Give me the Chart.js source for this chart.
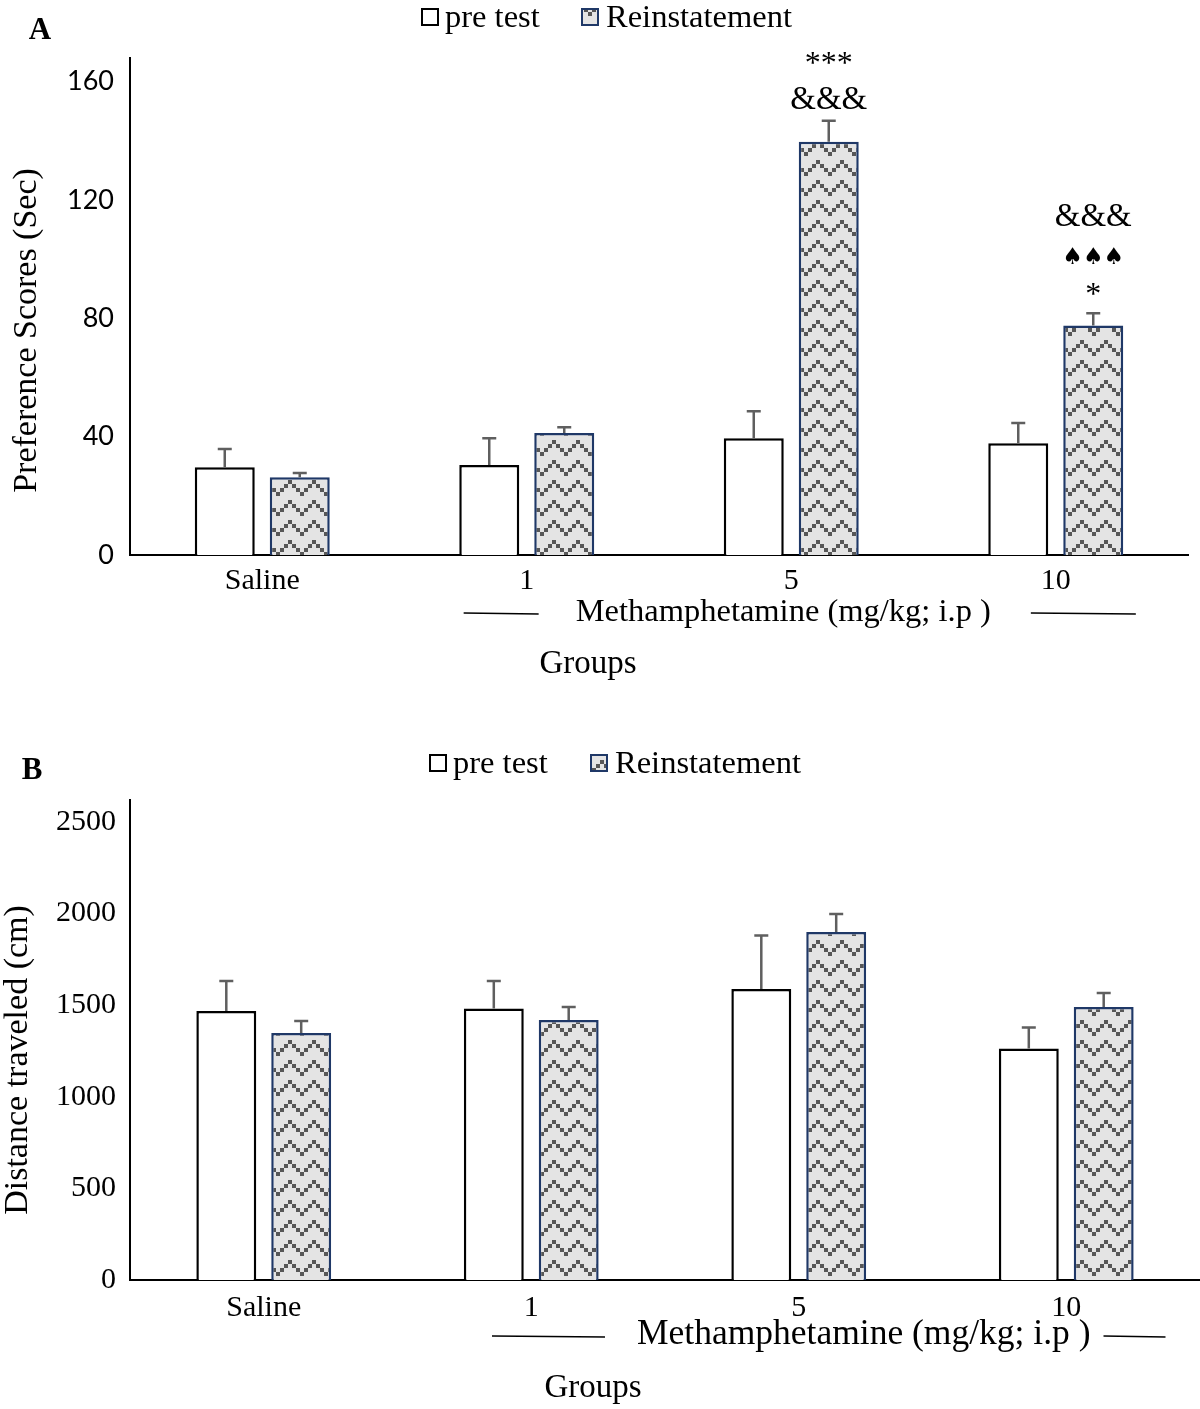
<!DOCTYPE html>
<html>
<head>
<meta charset="utf-8">
<script src="https://cdn.jsdelivr.net/npm/chart.js@4.4.1/dist/chart.umd.min.js"></script>
<style>
  html, body { margin: 0; padding: 0; background: #fff; }
  #wrap { position: relative; width: 1200px; height: 1409px; }
  .panel { position: absolute; left: 0; width: 1200px; }
</style>
</head>
<body>
<div id="wrap">
  <div class="panel" style="top:0;height:700px"><canvas id="chartA" width="1200" height="700"></canvas></div>
  <div class="panel" style="top:700px;height:709px"><canvas id="chartB" width="1200" height="709"></canvas></div>
</div>
<script>
const groups = ["Saline", "1", "5", "10"];
const seriesNames = ["pre test", "Reinstatement"];

// panel A: preference scores (sec)
const preA = [29.7, 30.4, 39.5, 37.8];
const preErrA = [6.1, 9.1, 9.1, 6.8];
const reinA = [26.3, 41.2, 139.7, 77.6];
const reinErrA = [1.4, 2.0, 7.1, 4.1];
const yTicksA = [0, 40, 80, 120, 160];
const marksA = [[], [], ["&&&", "***"], ["*", "♠♠♠", "&&&"]];

// panel B: distance traveled (cm)
const preB = [1468, 1482, 1588, 1263];
const preErrB = [164, 150, 292, 115];
const reinB = [1348, 1419, 1900, 1490];
const reinErrB = [66, 71, 98, 77];
const yTicksB = [0, 500, 1000, 1500, 2000, 2500];
const marksB = [[], [], [], []];

const methLabel = "Methamphetamine (mg/kg; i.p )";
const SERIF = '"Liberation Serif", "Times New Roman", serif';
const SANS = 'Lato, "Open Sans", sans-serif';

// grey zigzag fill like the Excel pattern
function makeZigzag(ctx) {
  const c = document.createElement("canvas");
  c.width = 24;
  c.height = 20;
  const g = c.getContext("2d");
  g.fillStyle = "#e4e4e4";
  g.fillRect(0, 0, 24, 20);
  g.fillStyle = "#575757";
  [0, 4, 8, 12, 8, 4].forEach((y, i) => g.fillRect(i * 4, y, 4, 4));
  return ctx.createPattern(c, "repeat");
}

// font and small vertical nudge per mark glyph
function markStyle(s) {
  if (s.includes("♠")) return { font: `23px "DejaVu Sans", sans-serif`, dy: 5 };
  if (s.includes("*")) return { font: `32px ${SERIF}`, dy: 4 };
  return { font: `33px ${SERIF}`, dy: 2 };
}

function overlay(p) {
  return {
    id: "overlay",
    afterDatasetsDraw(chart) {
      const ctx = chart.ctx;
      const x = chart.scales.x;
      const y = chart.scales.y;
      const area = chart.chartArea;
      ctx.save();

      // error bars (upper only)
      [p.preErr, p.reinErr].forEach((errs, di) => {
        const vals = chart.data.datasets[di].data;
        chart.getDatasetMeta(di).data.forEach((bar, j) => {
          const y0 = y.getPixelForValue(vals[j]);
          const y1 = y.getPixelForValue(vals[j] + errs[j]);
          ctx.strokeStyle = "#5f5f5f";
          ctx.lineWidth = 2.5;
          ctx.beginPath();
          ctx.moveTo(bar.x, y0);
          ctx.lineTo(bar.x, y1);
          ctx.moveTo(bar.x - 7, y1);
          ctx.lineTo(bar.x + 7, y1);
          ctx.stroke();
        });
      });

      // significance marks above reinstatement bars
      ctx.fillStyle = "#000";
      ctx.textAlign = "center";
      ctx.textBaseline = "middle";
      const reinVals = chart.data.datasets[1].data;
      chart.getDatasetMeta(1).data.forEach((bar, j) => {
        const top = y.getPixelForValue(reinVals[j] + p.reinErr[j]);
        p.marks[j].forEach((s, k) => {
          const st = markStyle(s);
          ctx.font = st.font;
          ctx.fillText(s, bar.x, top - 22 - k * 38 + st.dy);
        });
      });

      // y axis title
      ctx.save();
      ctx.translate(p.yTitleX, (area.top + area.bottom) / 2 + p.yTitleShift);
      ctx.rotate(-Math.PI / 2);
      ctx.font = `34px ${SERIF}`;
      ctx.fillText(p.yTitle, 0, 0);
      ctx.restore();

      // panel letter
      ctx.font = `bold 31px ${SERIF}`;
      ctx.fillText(p.letter, p.letterX, p.letterY);

      // legend
      const L = p.legend;
      ctx.textAlign = "left";
      ctx.font = `32.5px ${SERIF}`;
      ctx.fillStyle = "#fff";
      ctx.fillRect(L.x1, L.y - 8, 16, 16);
      ctx.strokeStyle = "#000";
      ctx.lineWidth = 2;
      ctx.strokeRect(L.x1, L.y - 8, 16, 16);
      ctx.fillStyle = "#000";
      ctx.fillText(seriesNames[0], L.x1 + 23, L.y + 1);
      ctx.fillStyle = p.pattern;
      ctx.fillRect(L.x2, L.y - 8, 16, 16);
      ctx.strokeStyle = "#1f3867";
      ctx.strokeRect(L.x2, L.y - 8, 16, 16);
      ctx.fillStyle = "#000";
      ctx.fillText(seriesNames[1], L.x2 + 24, L.y + 1);

      // methamphetamine row with side lines
      const M = p.meth;
      const xm = (x.getPixelForValue(1) + x.getPixelForValue(3)) / 2 + M.shift;
      ctx.textAlign = "center";
      ctx.font = `${M.size}px ${SERIF}`;
      const w = ctx.measureText(methLabel).width;
      ctx.fillText(methLabel, xm, M.y);
      ctx.strokeStyle = "#000";
      ctx.lineWidth = 1.5;
      ctx.beginPath();
      ctx.moveTo(xm - w / 2 - M.gapL - M.lenL, M.y + 1);
      ctx.lineTo(xm - w / 2 - M.gapL, M.y + 2);
      ctx.moveTo(xm + w / 2 + M.gapR, M.y + 1);
      ctx.lineTo(xm + w / 2 + M.gapR + M.lenR, M.y + 2);
      ctx.stroke();

      // groups caption
      ctx.font = `33px ${SERIF}`;
      ctx.fillText("Groups", p.groupsX, p.groupsY);
      ctx.restore();
    },
  };
}

function makeChart(id, p) {
  const ctx = document.getElementById(id).getContext("2d");
  p.pattern = makeZigzag(ctx);
  return new Chart(ctx, {
    type: "bar",
    data: {
      labels: groups,
      datasets: [
        {
          label: seriesNames[0],
          data: p.pre,
          backgroundColor: "#ffffff",
          borderColor: "#000000",
          borderWidth: 2.5,
          borderSkipped: "bottom",
          barPercentage: p.barPct,
          categoryPercentage: p.catPct,
        },
        {
          label: seriesNames[1],
          data: p.rein,
          backgroundColor: p.pattern,
          borderColor: "#1f3867",
          borderWidth: 2.5,
          borderSkipped: "bottom",
          barPercentage: p.barPct,
          categoryPercentage: p.catPct,
        },
      ],
    },
    options: {
      responsive: false,
      animation: false,
      devicePixelRatio: 1,
      layout: { padding: p.padding },
      plugins: { legend: { display: false }, tooltip: { enabled: false } },
      scales: {
        x: {
          grid: { display: false, drawTicks: false },
          border: { display: true, color: "#000", width: 2 },
          ticks: { color: "#000", font: { family: SERIF, size: 30 }, padding: p.xPad },
          afterFit: (s) => { s.height = p.xHeight; },
        },
        y: {
          min: 0,
          max: p.yMax,
          grid: { display: false, drawTicks: false },
          border: { display: true, color: "#000", width: 2 },
          afterBuildTicks: (s) => { s.ticks = p.yTicks.map((v) => ({ value: v })); },
          ticks: { color: "#000", font: p.tickFont, padding: p.yPad, callback: (v) => String(v) },
          afterFit: (s) => { s.width = 130; },
        },
      },
    },
    plugins: [overlay(p)],
  });
}

makeChart("chartA", {
  pre: preA, rein: reinA, preErr: preErrA, reinErr: reinErrA, marks: marksA,
  yMax: 168, yTicks: yTicksA, yTitle: "Preference Scores (Sec)",
  yTitleX: 27, yTitleShift: 24,
  tickFont: { family: SANS, size: 27 }, yPad: 16, xPad: 8,
  barPct: 0.8, catPct: 0.567,
  padding: { top: 58, right: 12, bottom: 0, left: 0 }, xHeight: 145,
  letter: "A", letterX: 40, letterY: 31,
  legend: { x1: 422, x2: 582, y: 17 },
  meth: { y: 612, size: 32.5, shift: -8, gapL: 37, lenL: 75, gapR: 40, lenR: 105 },
  groupsX: 588, groupsY: 664,
});

makeChart("chartB", {
  pre: preB, rein: reinB, preErr: preErrB, reinErr: reinErrB, marks: marksB,
  yMax: 2620, yTicks: yTicksB, yTitle: "Distance traveled (cm)",
  yTitleX: 18, yTitleShift: 20,
  tickFont: { family: SERIF, size: 30 }, yPad: 14, xPad: 10,
  barPct: 0.8, catPct: 0.56,
  padding: { top: 100, right: 0, bottom: 0, left: 0 }, xHeight: 129,
  letter: "B", letterX: 32, letterY: 71,
  legend: { x1: 430, x2: 591, y: 63 },
  meth: { y: 635, size: 35.5, shift: 65, gapL: 32, lenL: 113, gapR: 13, lenR: 62 },
  groupsX: 593, groupsY: 688,
});
</script>
</body>
</html>
